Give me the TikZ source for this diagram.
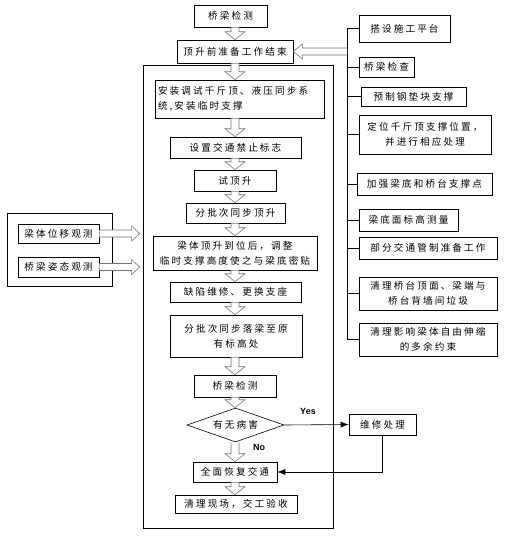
\documentclass[tikz,border=0pt]{standalone}
\usepackage{fontspec}
\newfontfamily\cjk[LetterSpace=22]{Noto Sans CJK SC}
\newfontfamily\latf{Liberation Sans}
\usetikzlibrary{calc,shapes.geometric,arrows.meta}
\tikzset{
  bx/.style={draw=black, line width=0.6pt, inner sep=0pt, align=center,
    font=\cjk\fontsize{9.6}{15}\selectfont},
  frame/.style={draw=black, line width=0.7pt, inner sep=0pt},
  harrow/.style={draw=black!55, line width=0.6pt, fill=white},
  link/.style={draw=black, line width=0.6pt},
  solid arrow/.style={draw=black, line width=0.6pt, -{Latex[length=8pt,width=6pt]}},
  lbl/.style={font=\latf\bfseries\fontsize{9}{10}\selectfont, inner sep=0pt}
}
% box from x1 to x2, y1 to y2 (pixels)
\newcommand\bxnode[6]{\node[bx,minimum width={#3-#2},minimum height={#5-#4}] (#1) at ({(#2+#3)/2},{(#4+#5)/2}) {#6};}
% hollow vertical arrow: x and start y from #1, tip y from #2
\newcommand\hdown[2]{\draw[harrow] let \p1=#1, \p2=#2 in
  ({\x1-4pt},\y1) -- ({\x1-4pt},{\y2+8pt}) -- ({\x1-10pt},{\y2+8pt}) -- (\x1,\y2)
  -- ({\x1+10pt},{\y2+8pt}) -- ({\x1+4pt},{\y2+8pt}) -- ({\x1+4pt},\y1);}
% hollow horizontal arrow pointing left: start #1, tip x from #2
\newcommand\hleft[2]{\draw[harrow] let \p1=#1, \p2=#2 in
  (\x1,{\y1+3.5pt}) -- ({\x2+9pt},{\y1+3.5pt}) -- ({\x2+9pt},{\y1+7.5pt}) -- (\x2,\y1)
  -- ({\x2+9pt},{\y1-7.5pt}) -- ({\x2+9pt},{\y1-3.5pt}) -- (\x1,{\y1-3.5pt});}
% hollow horizontal arrow pointing right: start #1, tip x from #2
\newcommand\hright[2]{\draw[harrow] let \p1=#1, \p2=#2 in
  (\x1,{\y1+3.5pt}) -- ({\x2-8pt},{\y1+3.5pt}) -- ({\x2-8pt},{\y1+7.5pt}) -- (\x2,\y1)
  -- ({\x2-8pt},{\y1-7.5pt}) -- ({\x2-8pt},{\y1-3.5pt}) -- (\x1,{\y1-3.5pt});}
\begin{document}
\begin{tikzpicture}[x=1pt,y=-1pt]
\useasboundingbox (0,0) rectangle (504,536);
\fill[white] (0,0) rectangle (504,536);

% containers
\node[frame, minimum width=190, minimum height=463] (main) at (238,296.5) {};
\node[frame, minimum width=105, minimum height=73] (left) at (59.5,249.5) {};

% main column
\coordinate (col) at (235,0);
\bxnode{n1}{194}{267}{5}{27}{桥梁检测}
\bxnode{n2}{177}{293}{40}{63}{顶升前准备工作结束}
\node[bx, align=left, text width=163, minimum width=169, minimum height=38] (n3) at (239.5,99)
  {安装调试千斤顶、液压同步系\\统,安装临时支撑};
\bxnode{n4}{170}{301}{137}{158}{设置交通禁止标志}
\bxnode{n5}{194}{276}{170}{191}{试顶升}
\bxnode{n6}{186}{285}{203}{223}{分批次同步顶升}
\bxnode{n7}{153}{317}{236}{270}{梁体顶升到位后，调整\\临时支撑高度使之与梁底密贴}
\bxnode{n8}{170}{301}{282}{302}{缺陷维修、更换支座}
\bxnode{n9}{170}{302}{315}{357}{分批次同步落梁至原\\有标高处}
\bxnode{n10}{194}{276}{375}{397}{桥梁检测}
\node[bx, diamond, aspect=2.85, minimum width=97, minimum height=34] (d) at (235.5,425) {有无病害};
\bxnode{n11}{193}{277}{462}{482}{全面恢复交通}
\bxnode{n12}{175}{297}{495}{513}{清理现场，交工验收}

% right column
\bxnode{r1}{359}{450}{15}{42}{搭设施工平台}
\bxnode{r2}{359}{414}{57}{77}{桥梁检查}
\bxnode{r3}{361}{466}{87}{106}{预制钢垫块支撑}
\bxnode{r4}{359}{491}{115}{154}{定位千斤顶支撑位置，\\并进行相应处理}
\bxnode{r5}{357}{492}{173}{195}{加强梁底和桥台支撑点}
\bxnode{r6}{359}{458}{209}{231}{梁底面标高测量}
\bxnode{r7}{359}{497}{237}{259}{部分交通管制准备工作}
\bxnode{r8}{359}{497}{277}{310}{清理桥台顶面、梁端与\\桥台背墙间垃圾}
\bxnode{r9}{359}{497}{323}{356}{清理影响梁体自由伸缩\\的多余约束}
\bxnode{w}{349}{416}{414}{435}{维修处理}

% left boxes
\bxnode{L1}{18}{99}{224}{243}{梁体位移观测}
\bxnode{L2}{18}{99}{257}{277}{桥梁姿态观测}

% right spine and branches
\coordinate (sp) at (347,0);
\draw[link] (sp |- r1.west) -- (sp |- r9.west);
\foreach \r in {r1,r2,r3,r4,r5,r6,r7,r8,r9} {\draw[link] (sp |- \r.west) -- (\r.west);}

% hollow arrows
\hdown{(col |- n1.south)}{(col |- n2.north)}
\hdown{(col |- n2.south)}{(col |- n3.north)}
\hdown{(col |- n3.south)}{(col |- n4.north)}
\hdown{(col |- n4.south)}{(col |- n5.north)}
\hdown{(col |- n5.south)}{(col |- n6.north)}
\hdown{(col |- n6.south)}{(col |- n7.north)}
\hdown{(col |- n7.south)}{(col |- n8.north)}
\hdown{(col |- n8.south)}{(col |- n9.north)}
\hdown{(col |- n9.south)}{(col |- n10.north)}
\hdown{(col |- n10.south)}{(col |- d.north)}
\hdown{(col |- d.south)}{(col |- n11.north)}
\hdown{(col |- n11.south)}{(col |- n12.north)}
\hleft{(sp |- n2.east)}{(n2.east)}
\coordinate (ltip) at ([xshift=-3pt]main.west);
\hright{(L1.east)}{(ltip |- L1.east)}
\hright{(L2.east)}{(ltip |- L2.east)}

% decision arrows
\draw[solid arrow] (d.east) -- (w.west);
\draw[solid arrow] (w.south) |- (n11.east);
\node[lbl] (yes) at (308,411) {Yes};
\node[lbl] (no) at (259,447) {No};
\end{tikzpicture}
\end{document}
